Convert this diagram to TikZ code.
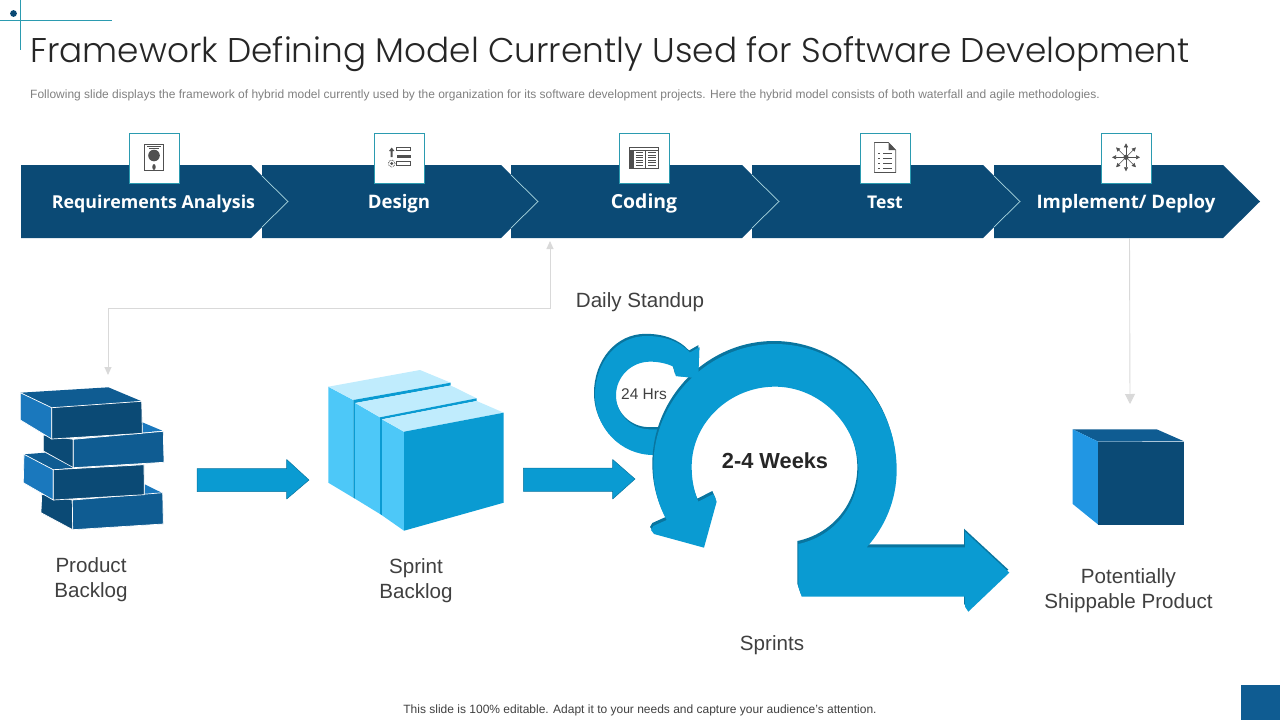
\documentclass[tikz,border=0pt]{standalone}
\usepackage{fontspec}
\setmainfont{Liberation Sans}
\newfontfamily\titlefont{Poppins Light}
\newfontfamily\headfont{Open Sans}
\usetikzlibrary{arrows.meta}
\definecolor{navy}{HTML}{0B4A75}
\definecolor{midblue}{HTML}{0F5C92}
\definecolor{brightb}{HTML}{1A78BD}
\definecolor{cubeside}{HTML}{2196E3}
\definecolor{teal}{HTML}{2B9BB0}
\definecolor{cyanb}{HTML}{0A9BD2}
\definecolor{cyand}{HTML}{09759F}
\definecolor{lightface}{HTML}{C0ECFD}
\definecolor{sideface}{HTML}{4DC8F8}
\definecolor{linkgrey}{HTML}{D9D9D9}
\definecolor{txt}{HTML}{404040}
\definecolor{icon}{HTML}{505050}
\tikzset{
  chev/.style={fill=navy,draw=none},
  chevedge/.style={draw=white!60!teal,line width=0.7pt},
  chevlabel/.style={text=white,anchor=base,font=\headfont\bfseries\fontsize{18.6}{22}\selectfont,inner sep=0pt},
  iconbox/.style={draw=teal,fill=white,line width=0.9pt,minimum width=50pt,minimum height=50pt,inner sep=0pt},
  linkhead/.style={draw=linkgrey,line width=0.9pt},
  caption/.style={text=txt,align=center,font=\fontsize{20.6}{25}\selectfont,inner sep=0pt},
  brick/.style={draw=white,line width=0.7pt,line join=round},
  ic/.style={draw=icon,line width=0.6pt},
  flow/.style={fill=cyanb,draw=cyand,line width=0.5pt,line join=round},
}
\begin{document}
\begin{tikzpicture}[x=1pt,y=-1pt]
\useasboundingbox (0,0) rectangle (1280,720);
% corner ornament
\draw[teal,line width=0.8pt] (0,20.5) -- (112,20.5);
\draw[teal,line width=0.8pt] (20.5,0) -- (20.5,50);
\fill[navy] (13.5,13.5) circle (3.4);
\fill[midblue] (1241,685) rectangle (1280,720);
% title
\node[anchor=base west,inner sep=0pt,text=black!85,font=\titlefont\fontsize{34.3}{42}\selectfont] (title) at (30,62) {Framework Defining Model Currently Used for Software Development};
\node[anchor=base west,inner sep=0pt,text=black!50,font=\fontsize{12}{14}\selectfont] (subtitle) at (30,98) {Following slide displays the framework of hybrid model currently used by the organization for its software development projects. Here the hybrid model consists of both waterfall and agile methodologies.};
\node[anchor=base,inner sep=0pt,text=txt,font=\fontsize{12}{14}\selectfont] (footer) at (640,713) {This slide is 100\% editable. Adapt it to your needs and capture your audience's attention.};
% chevrons, last first
\fill[chev] (994,165) -- (1223,165) -- (1260,201.5) -- (1223,238) -- (994,238) -- cycle;
\fill[chev] (752,165) -- (983,165) -- (1020,201.5) -- (983,238) -- (752,238) -- cycle;
\draw[chevedge] (994,176) -- (1020,201.5) -- (994,227);
\fill[chev] (511,165) -- (742,165) -- (779,201.5) -- (742,238) -- (511,238) -- cycle;
\draw[chevedge] (752,175) -- (779,201.5) -- (752,228);
\fill[chev] (262,165) -- (501,165) -- (538,201.5) -- (501,238) -- (262,238) -- cycle;
\draw[chevedge] (511,175) -- (538,201.5) -- (511,228);
\fill[chev] (21,165) -- (251,165) -- (288,201.5) -- (251,238) -- (21,238) -- cycle;
\draw[chevedge] (262,176) -- (288,201.5) -- (262,227);
\node[chevlabel,font=\headfont\bfseries\fontsize{17.8}{22}\selectfont] (reqlabel) at (153.5,208) {Requirements Analysis};
\node[chevlabel] (deslabel) at (399,208) {Design};
\node[chevlabel,font=\headfont\bfseries\fontsize{19.4}{22}\selectfont] (codlabel) at (644,208) {Coding};
\node[chevlabel,font=\headfont\bfseries\fontsize{17.5}{22}\selectfont] (tstlabel) at (885,208) {Test};
\node[chevlabel] (implabel) at (1126,208) {Implement/ Deploy};
\node[iconbox] (ibox1) at (154.5,158) {};
\node[iconbox] (ibox2) at (399.5,158) {};
\node[iconbox] (ibox3) at (644.5,158) {};
\node[iconbox] (ibox4) at (885.5,158) {};
\node[iconbox] (ibox5) at (1126.5,158) {};
% icon 1
\draw[ic] (144.5,144.5) rectangle (163.5,170);
\draw[ic] (147,146.5) -- (161,146.5); \draw[ic] (149,148.3) -- (159,148.3);
\fill[icon] (154,155.5) circle (5.8);
\fill[icon] (154,167) ellipse (1.7 and 3);
% icon 2
\fill[icon] (390.7,157) -- (390.7,151) -- (389,151) -- (391.7,147.5) -- (394.4,151) -- (392.7,151) -- (392.7,157) -- cycle;
\draw[ic] (396.7,147.7) rectangle (410.7,150.7);
\fill[icon] (396.7,155) rectangle (410.7,158);
\draw[ic] (396.7,161.7) rectangle (410.7,165.7);
\draw[ic,densely dotted,line width=1pt] (391.7,163.5) circle (3.4);
\fill[icon] (391.7,163.5) circle (1.6);
% icon 3
\draw[ic] (629.5,147) rectangle (658.7,168.3);
\draw[ic] (629.5,150) -- (658.7,150);
\fill[icon] (629.5,150) rectangle (633.5,168.3);
\foreach \yy in {152.5,155,157.5,160,162.5,165}{
  \draw[icon,line width=0.6pt] (636,\yy) -- (643,\yy);
  \draw[icon,line width=0.6pt] (648,\yy) -- (656,\yy);
}
\draw[icon,line width=0.6pt] (645.5,150) -- (645.5,168.3);
% icon 4
\draw[ic,line join=round] (874.3,142.5) -- (888.5,142.5) -- (895.7,150) -- (895.7,172.5) -- (874.3,172.5) -- cycle;
\fill[icon] (888.5,142.5) -- (895.7,150) -- (888.5,150) -- cycle;
\foreach \yy in {153,158,163.5,168.5}{
  \draw[icon,line width=0.9pt] (878,\yy) -- (880,\yy);
  \draw[icon,line width=0.7pt] (883,\yy) -- (892,\yy);
}
% icon 5
\foreach \aa in {0,45,...,315}{
  \draw[icon,line width=0.6pt,-{Triangle[length=4pt,width=4pt]}] (1126,157.3) -- ++(\aa:14);
}
\fill[icon] (1126,157.3) circle (2.6);
% connectors
\coordinate (cTop) at (550,241);
\coordinate (cBend1) at (550,308);
\coordinate (cBend2) at (108,308);
\coordinate (cStack) at (108,375);
\coordinate (cDeploy) at (1129.5,238);
\coordinate (cCube) at (1130,404);
\draw[linkhead,{Triangle[length=8pt,width=7pt,fill=linkgrey]}-{Triangle[length=8pt,width=7pt,fill=linkgrey]}] (cTop) -- (cBend1) -- (cBend2) -- (cStack);
\draw[linkhead,-{Triangle[length=10pt,width=10pt,fill=linkgrey]}] (cDeploy) -- (cCube);
% product backlog stack
\fill[brightb] (142.3,422.3) -- (162.3,430.7) -- (142.3,432.7) -- cycle;
\filldraw[brick,fill=navy] (43.3,435) -- (73.3,439.3) -- (73.3,467.7) -- (43.3,451) -- cycle;
\filldraw[brick,fill=midblue] (73.3,439.3) -- (163.3,431.3) -- (164,462.3) -- (73.3,467.7) -- cycle;
\fill[midblue] (20.3,392.7) -- (108.3,387.3) -- (141.7,401.3) -- (51.7,407.7) -- cycle;
\filldraw[brick,fill=brightb] (20.3,392.7) -- (51.7,407.7) -- (51.7,439) -- (20.3,420) -- cycle;
\filldraw[brick,fill=navy] (51.7,407.7) -- (141.7,401.3) -- (142.3,433.3) -- (51.7,439) -- cycle;
\fill[brightb] (144.7,484.3) -- (161.7,492.7) -- (144.7,494.7) -- cycle;
\filldraw[brick,fill=navy] (41.7,494.3) -- (72.3,500) -- (72.7,529.7) -- (41,512.7) -- cycle;
\filldraw[brick,fill=midblue] (72.3,500) -- (162.7,492.7) -- (163.3,524) -- (72.7,529.7) -- cycle;
\fill[midblue] (24,454.3) -- (45,452.7) -- (72.7,467.7) -- (53.3,469.7) -- cycle;
\filldraw[brick,fill=brightb] (24,454.3) -- (53.3,469.7) -- (53.3,500) -- (23.3,482.7) -- cycle;
\filldraw[brick,fill=navy] (53.3,469.7) -- (144,464.7) -- (144.3,494.7) -- (53.3,500) -- cycle;
% sprint backlog cubes
\fill[sideface] (328.3,386.7) -- (353.3,400) -- (353.3,497.7) -- (328.3,482.7) -- cycle;
\fill[lightface] (328.3,386.7) -- (420,370) -- (450.7,382.7) -- (353.3,400) -- cycle;
\fill[cyanb] (353.3,400) -- (450.7,382.7) -- (450.7,385.5) -- (355.2,403) -- (355.2,498.8) -- (353.3,497.7) -- cycle;
\fill[sideface] (355.2,403) -- (380,417.3) -- (380,514) -- (355.2,498.8) -- cycle;
\fill[lightface] (355.2,403) -- (450.7,385.5) -- (476.7,398.3) -- (380,417.3) -- cycle;
\fill[cyanb] (380,417.3) -- (476.7,398.3) -- (476.7,401) -- (382,419.3) -- (382,515.3) -- (380,514) -- cycle;
\fill[sideface] (382,419.3) -- (404,431.7) -- (404,530.7) -- (382,515.3) -- cycle;
\fill[lightface] (382,419.3) -- (476.7,401) -- (503.7,412.7) -- (404,431.7) -- cycle;
\fill[cyanb] (404,431.7) -- (503.7,412.7) -- (503.7,502.7) -- (404,530.7) -- cycle;
% straight arrows
\filldraw[flow] (197,468.7) -- (286.7,468.7) -- (286.7,459.5) -- (309,480) -- (286.7,499) -- (286.7,491.7) -- (197,491.7) -- cycle;
\filldraw[flow] (523.3,468) -- (612.7,468) -- (612.7,459.5) -- (635,479) -- (612.7,499) -- (612.7,491.3) -- (523.3,491.3) -- cycle;
% spirals
\begin{scope}[shift={(590,320)},x=0.33333pt,y=-0.33333pt]
\def\smallspiral{(300,98) -- (328,82) -- (325,175) -- (258,168) -- (250,140)
  .. controls (230,130) and (205,125) .. (180,125)
  .. controls (124,125) and (78,170) .. (78,226)
  .. controls (78,282) and (124,328) .. (180,328)
  -- (225,328) -- (225,405) -- (190,405)
  .. controls (93,405) and (15,325) .. (15,226)
  .. controls (15,128) and (80,48) .. (170,48)
  .. controls (225,48) and (270,65) .. (300,98) -- cycle}
\def\bigspiral{(325,545)
  .. controls (312,515) and (305,480) .. (305,440)
  .. controls (305,307) and (420,200) .. (555,200)
  .. controls (690,200) and (805,315) .. (805,450)
  .. controls (805,560) and (730,650) .. (625,672)
  -- (625,800) -- (635,830) -- (1125,830) -- (1125,860) -- (1135,875) -- (1258,758) -- (1125,635) -- (1125,682) -- (830,682)
  .. controls (885,620) and (920,540) .. (920,450)
  .. controls (920,240) and (755,72) .. (555,72)
  .. controls (355,72) and (190,240) .. (190,440)
  .. controls (190,500) and (205,555) .. (230,600)
  -- (190,618) -- (183,630) -- (192,642) -- (342,683) -- (380,545) -- (370,522) -- cycle}
\fill[cyand,xshift=-1pt,yshift=2.2pt] \smallspiral;
\fill[cyanb] \smallspiral;
\fill[cyand,xshift=-1pt,yshift=3pt] \bigspiral;
\fill[cyanb] \bigspiral;
% arrowhead of the small spiral lies over the big one
\fill[cyanb] (300,98) -- (328,82) -- (325,175) -- (258,168) -- (250,140) -- cycle;
\end{scope}
% labels
\node[anchor=base,inner sep=0pt,text=txt,font=\fontsize{15.5}{19}\selectfont] (hrs) at (644,399.5) {24 Hrs};
\node[inner sep=0pt,text=black!85,font=\bfseries\fontsize{21.8}{25}\selectfont] (weeks) at (775,461) {2-4 Weeks};
\node[caption] (standup) at (640,302) {Daily Standup};
\node[caption] (sprints) at (772,645) {Sprints};
\node[caption] (pback) at (91,579.5) {Product\\Backlog};
\node[caption] (sback) at (416,580.5) {Sprint\\Backlog};
\node[caption] (ship) at (1128.5,590.5) {Potentially\\Shippable Product};
% shippable cube
\fill[midblue] (1072.7,429.3) -- (1156.7,429.3) -- (1184,441.3) -- (1098.3,441.7) -- cycle;
\fill[cubeside] (1072.7,429.3) -- (1098.3,441.7) -- (1098.3,524.7) -- (1072.7,504) -- cycle;
\fill[navy] (1098.3,441.7) rectangle (1184,524.7);
\end{tikzpicture}
\end{document}
